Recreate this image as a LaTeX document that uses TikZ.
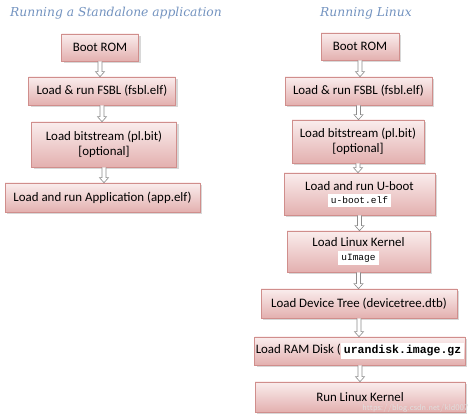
\documentclass[tikz,border=0pt]{standalone}
\usepackage{fontspec}
\setmainfont{Carlito}
\newfontfamily\titlefont{DejaVu Serif}
\newfontfamily\monofont{Liberation Mono}
\usepackage{tikz}
\usetikzlibrary{calc, shadows}
\definecolor{BootTop}{HTML}{FAEDED}
\definecolor{BootBottom}{HTML}{E3B0AF}
\definecolor{BootEdge}{HTML}{D08E8C}
\definecolor{BootTitle}{HTML}{7393C0}
\definecolor{BootArrow}{HTML}{8C8C8C}
\tikzset{
  stage/.style={draw=BootEdge, line width=0.6pt, shading=axis,
    top color=BootTop, bottom color=BootBottom, align=center,
    font=\fontsize{12.9}{14.5}\selectfont, inner sep=1pt,
    drop shadow={shadow xshift=2pt, shadow yshift=-2.5pt, fill=black!30}},
  heading/.style={font=\titlefont\itshape\fontsize{12.3}{14}\selectfont, text=BootTitle},
  hollow arrow/.style={draw=BootArrow, fill=white, line width=0.6pt}
}
\newcommand{\hollowarrow}[2]{%
  \draw[hollow arrow] let \p1=(#1.south), \p2=(#2.north) in
    (\x1-2pt,\y1) -- (\x1-2pt,\y2+5pt) -- (\x1-4.5pt,\y2+5pt) -- (\x1,\y2)
    -- (\x1+4.5pt,\y2+5pt) -- (\x1+2pt,\y2+5pt) -- (\x1+2pt,\y1);}
\newcommand{\filebox}[1]{\colorbox{white}{\monofont\fontsize{9.5}{11}\selectfont #1}}
\begin{document}
\begin{tikzpicture}[x=1pt, y=1pt]
\useasboundingbox[fill=white] (0,0) rectangle (474,-419);

% standalone application
\node[heading] (titleA) at (116,-13) {Running a Standalone application};
\node[stage, minimum width=77pt, minimum height=27pt] (romA) at (100,-47.5) {Boot ROM};
\node[stage, minimum width=147pt, minimum height=28pt] (fsblA) at (102,-91) {Load \& run FSBL (fsbl.elf)};
\node[stage, minimum width=145pt, minimum height=45pt] (bitA) at (104,-144.5) {Load bitstream (pl.bit)\\{}[optional]};
\node[stage, minimum width=195pt, minimum height=29pt] (appA) at (102.5,-197.5) {Load and run Application (app.elf)};

\hollowarrow{romA}{fsblA}
\hollowarrow{fsblA}{bitA}
\hollowarrow{bitA}{appA}

% linux
\node[heading] (titleB) at (366,-13) {Running Linux};
\node[stage, minimum width=78pt, minimum height=27pt] (romB) at (360,-46.5) {Boot ROM};
\node[stage, minimum width=147pt, minimum height=28pt] (fsblB) at (358.5,-91) {Load \& run FSBL (fsbl.elf)};
\node[stage, minimum width=132pt, minimum height=43pt] (bitB) at (358,-141.5) {Load bitstream (pl.bit)\\{}[optional]};
\node[stage, minimum width=151pt, minimum height=42pt] (ubootB) at (359.5,-194) {Load and run U-boot\\[-1pt]\filebox{u-boot.elf}};
\node[stage, minimum width=143pt, minimum height=41pt] (kernB) at (358.5,-251.5) {Load Linux Kernel\\[-1pt]\filebox{uImage}};
\node[stage, minimum width=196pt, minimum height=29pt] (dtbB) at (359,-303.5) {Load Device Tree (devicetree.dtb)};
\node[stage, minimum width=210pt, minimum height=28pt] (ramB) at (360,-351) {Load RAM Disk (\colorbox{white}{\monofont\bfseries\fontsize{11.5}{13}\selectfont urandisk.image.gz}};
\node[stage, minimum width=210pt, minimum height=30pt] (runB) at (360,-397) {Run Linux Kernel};

\hollowarrow{romB}{fsblB}
\hollowarrow{fsblB}{bitB}
\hollowarrow{bitB}{ubootB}
\hollowarrow{ubootB}{kernB}
\hollowarrow{kernB}{dtbB}
\hollowarrow{dtbB}{ramB}
\hollowarrow{ramB}{runB}

\node[font=\sffamily\fontsize{8.5}{10}\selectfont, text=white!75!gray, anchor=east] (mark) at (472,-408) {https://blog.csdn.net/kld007};
\end{tikzpicture}
\end{document}
